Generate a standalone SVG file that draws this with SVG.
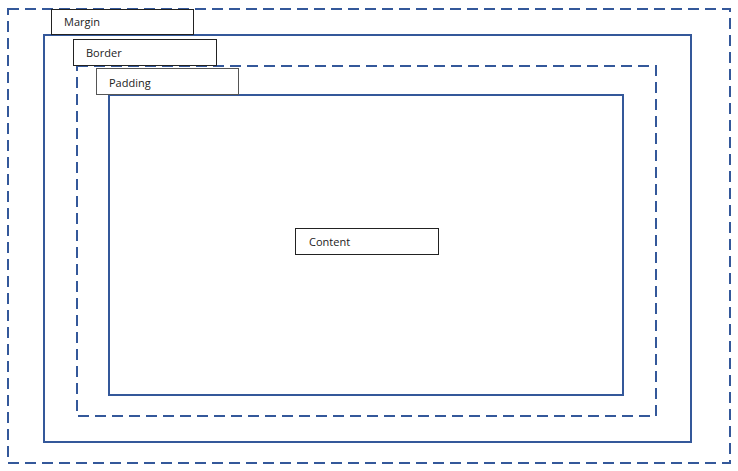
<svg xmlns="http://www.w3.org/2000/svg" width="738" height="471" viewBox="0 0 738 471">
<style>
.b{fill:none;stroke:#34589a;stroke-width:2}
.d{stroke-dasharray:11 6}
.lbl{fill:#fff;stroke:#222;stroke-width:1}
.t{font-family:"Open Sans","Liberation Sans",sans-serif;font-size:11px;fill:#222}
</style>
<rect width="738" height="471" fill="#fff"/>
<g id="connectors"/>
<g id="margin">
<rect class="b d" x="8" y="9" width="722" height="454"/>
</g>
<g id="border">
<rect class="b" x="44" y="35" width="647" height="407"/>
</g>
<g id="padding">
<rect class="b d" x="77" y="66" width="579" height="350"/>
</g>
<g id="content">
<rect class="b" x="109" y="95" width="514" height="300"/>
</g>
<g id="label-margin">
<rect class="lbl" x="51.5" y="9.5" width="142" height="25"/>
<text class="t" x="64" y="26">Margin</text>
</g>
<g id="label-border">
<rect class="lbl" x="73.5" y="39.5" width="143" height="26"/>
<text class="t" x="86" y="57">Border</text>
</g>
<g id="label-padding">
<rect class="lbl" x="96.5" y="68.5" width="142" height="26" style="stroke:#555"/>
<text class="t" x="109" y="87">Padding</text>
</g>
<g id="label-content">
<rect class="lbl" x="295.5" y="228.5" width="143" height="26"/>
<text class="t" x="309" y="246">Content</text>
</g>
</svg>
